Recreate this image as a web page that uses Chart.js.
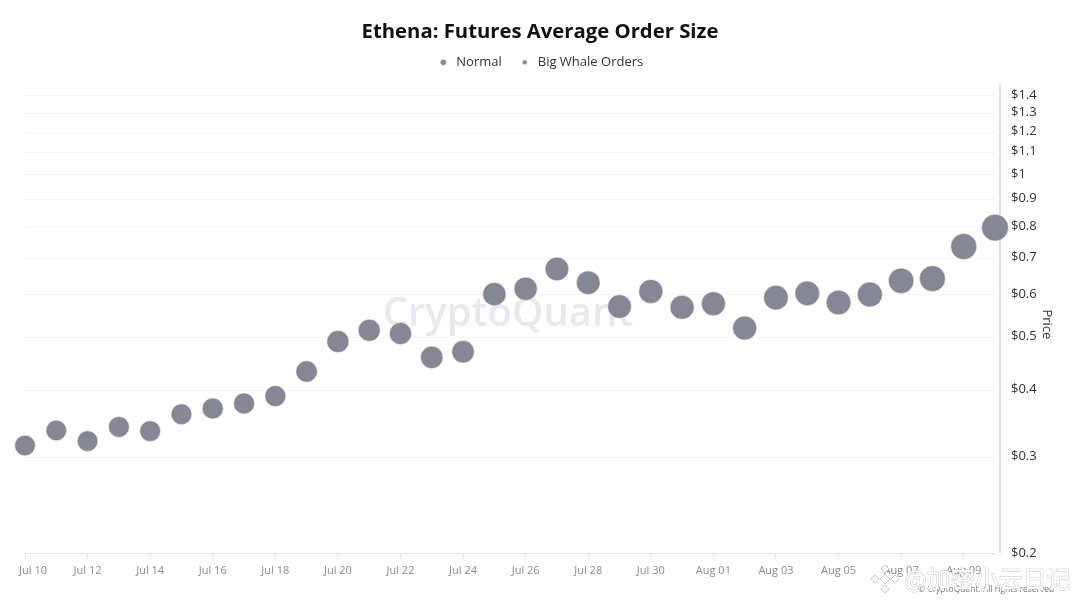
<!DOCTYPE html>
<html>
<head>
<meta charset="utf-8">
<title>Ethena: Futures Average Order Size</title>
<script src="https://cdn.jsdelivr.net/npm/chart.js@4"></script>
<style>
  html, body { margin: 0; padding: 0; background: #fff; }
  canvas { display: block; }
</style>
</head>
<body>
<canvas id="myChart" width="1080" height="608"></canvas>
<script>
const days = [
    'Jul 10', 'Jul 11', 'Jul 12', 'Jul 13', 'Jul 14', 'Jul 15', 'Jul 16', 'Jul 17',
    'Jul 18', 'Jul 19', 'Jul 20', 'Jul 21', 'Jul 22', 'Jul 23', 'Jul 24', 'Jul 25',
    'Jul 26', 'Jul 27', 'Jul 28', 'Jul 29', 'Jul 30', 'Jul 31', 'Aug 01', 'Aug 02',
    'Aug 03', 'Aug 04', 'Aug 05', 'Aug 06', 'Aug 07', 'Aug 08', 'Aug 09', 'Aug 10'
];
const prices = [
    0.316, 0.337, 0.322, 0.342, 0.336, 0.361, 0.370, 0.378,
    0.390, 0.433, 0.492, 0.516, 0.509, 0.460, 0.471, 0.602,
    0.616, 0.670, 0.632, 0.571, 0.609, 0.569, 0.578, 0.521,
    0.593, 0.604, 0.581, 0.601, 0.637, 0.643, 0.737, 0.799
];
const orderSizes = [
    10.3, 10.3, 10.3, 10.4, 10.4, 10.4, 10.5, 10.5,
    10.5, 10.7, 11, 11, 11, 11.2, 11.2, 11.6,
    11.6, 11.8, 11.8, 11.8, 12, 12, 12, 12,
    12.3, 12.3, 12.3, 12.5, 12.7, 12.9, 13, 13.4
];
const normalOrders = [];
const priceTicks = [0.2, 0.3, 0.4, 0.5, 0.6, 0.7, 0.8, 0.9, 1, 1.1, 1.2, 1.3, 1.4];

const FONT = '"Open Sans", "Noto Sans", sans-serif';
const DOT = '#878694';

function diamond(ctx, cx, cy, r) {
    ctx.beginPath();
    ctx.moveTo(cx, cy - r);
    ctx.lineTo(cx + r, cy);
    ctx.lineTo(cx, cy + r);
    ctx.lineTo(cx - r, cy);
    ctx.closePath();
    ctx.fill();
    ctx.stroke();
}

// Faint brand text behind the points, axis line and the overlays on top
const decorations = {
    id: 'decorations',
    beforeDatasetsDraw(chart) {
        const { ctx, chartArea, scales } = chart;
        ctx.save();
        ctx.fillStyle = '#e9e9ed';
        ctx.font = '600 40px ' + FONT;
        ctx.textAlign = 'center';
        ctx.textBaseline = 'middle';
        ctx.fillText('CryptoQuant', 508, 315);

        // y axis line sits a little right of the plot, taller than the grid
        ctx.strokeStyle = '#d4d4d8';
        ctx.lineWidth = 1.5;
        ctx.beginPath();
        ctx.moveTo(chartArea.right + 5, chartArea.top - 11);
        ctx.lineTo(chartArea.right + 5, scales.y.bottom);
        ctx.stroke();
        ctx.restore();
    },
    afterDraw(chart) {
        const { ctx } = chart;
        ctx.save();
        ctx.fillStyle = '#777';
        ctx.font = '8.5px ' + FONT;
        ctx.textAlign = 'left';
        ctx.textBaseline = 'middle';
        ctx.fillText('\u00a9 CryptoQuant. All rights reserved', 918, 590);

        // reposted-from watermark, white with a thin grey outline
        ctx.font = '24px "Noto Sans CJK SC", sans-serif';
        ctx.lineWidth = 1;
        ctx.strokeStyle = '#c8c8cc';
        ctx.fillStyle = '#ffffff';
        ctx.strokeText('@加密小云日记', 904, 579);
        ctx.fillText('@加密小云日记', 904, 579);

        diamond(ctx, 885, 579, 5);
        diamond(ctx, 885, 569, 4);
        diamond(ctx, 885, 589, 4);
        diamond(ctx, 875, 579, 4);
        diamond(ctx, 895, 579, 4);
        ctx.restore();
    }
};

// Legend block needs some air under it before the plot starts
const legendGap = {
    id: 'legendGap',
    beforeLayout(chart) {
        const legend = chart.legend;
        if (legend.gapAdded) return;
        const fit = legend.fit;
        legend.fit = function () {
            fit.call(this);
            this.height += 17;
        };
        legend.gapAdded = true;
    }
};

// First date label is pushed inside the plot, price labels ride just above their grid line
const labelNudge = {
    id: 'labelNudge',
    beforeDraw(chart) {
        const { x, y } = chart.scales;
        x.getLabelItems()[0].options.translation[0] = x.getPixelForTick(0) + 8;
        y.getLabelItems().forEach((item, i) => {
            if (i > 0) item.options.translation[1] = y.getPixelForTick(i) - 1;
        });
    }
};

new Chart(document.getElementById('myChart').getContext('2d'), {
    type: 'bubble',
    data: {
        labels: days,
        datasets: [
            { label: 'Normal', data: normalOrders, backgroundColor: DOT, borderColor: DOT },
            {
                label: 'Big Whale Orders',
                data: days.map((day, i) => ({ x: day, y: prices[i], r: orderSizes[i] })),
                backgroundColor: DOT,
                borderColor: '#f4f4f6',
                borderWidth: 0.5,
                clip: false
            }
        ]
    },
    options: {
        responsive: false,
        animation: false,
        devicePixelRatio: 1,
        layout: { padding: { left: 25, right: 25, top: 14, bottom: 0 } },
        plugins: {
            title: {
                display: true,
                text: 'Ethena: Futures Average Order Size',
                color: '#111',
                font: { family: FONT, size: 20.3, weight: '700' },
                padding: { top: 6, bottom: -5 }
            },
            legend: {
                display: true,
                position: 'top',
                labels: {
                    usePointStyle: true,
                    boxHeight: 3.5,
                    padding: 16.5,
                    color: '#333',
                    font: { family: FONT, size: 13 }
                }
            },
            tooltip: { enabled: false }
        },
        scales: {
            x: {
                type: 'category',
                offset: false,
                afterBuildTicks(scale) {
                    scale.ticks = scale.ticks.filter((tick, i) => i % 2 === 0);
                },
                afterFit(scale) {
                    scale.height = 55;
                    scale.paddingLeft = 0;
                    scale.paddingRight = 0;
                },
                border: { color: '#e4e4e8', width: 1 },
                grid: { drawOnChartArea: false, drawTicks: true, tickLength: 6, color: '#e4e4e8' },
                ticks: {
                    autoSkip: false,
                    maxRotation: 0,
                    padding: 5,
                    color: '#8a8a8a',
                    font: { family: FONT, size: 11 }
                }
            },
            y: {
                type: 'logarithmic',
                position: 'right',
                min: 0.2,
                max: 1.4,
                afterBuildTicks(scale) {
                    scale.ticks = priceTicks.map(value => ({ value: value }));
                },
                afterFit(scale) {
                    scale.width = 60;
                },
                title: {
                    display: true,
                    text: 'Price',
                    color: '#333',
                    font: { family: FONT, size: 13 },
                    padding: 0
                },
                border: { display: false },
                grid: { color: '#f5f5f7', lineWidth: 1, drawTicks: false },
                ticks: {
                    padding: 16,
                    color: '#333',
                    font: { family: FONT, size: 13 },
                    callback: value => '$' + value
                }
            }
        }
    },
    plugins: [legendGap, labelNudge, decorations]
});
</script>
</body>
</html>
